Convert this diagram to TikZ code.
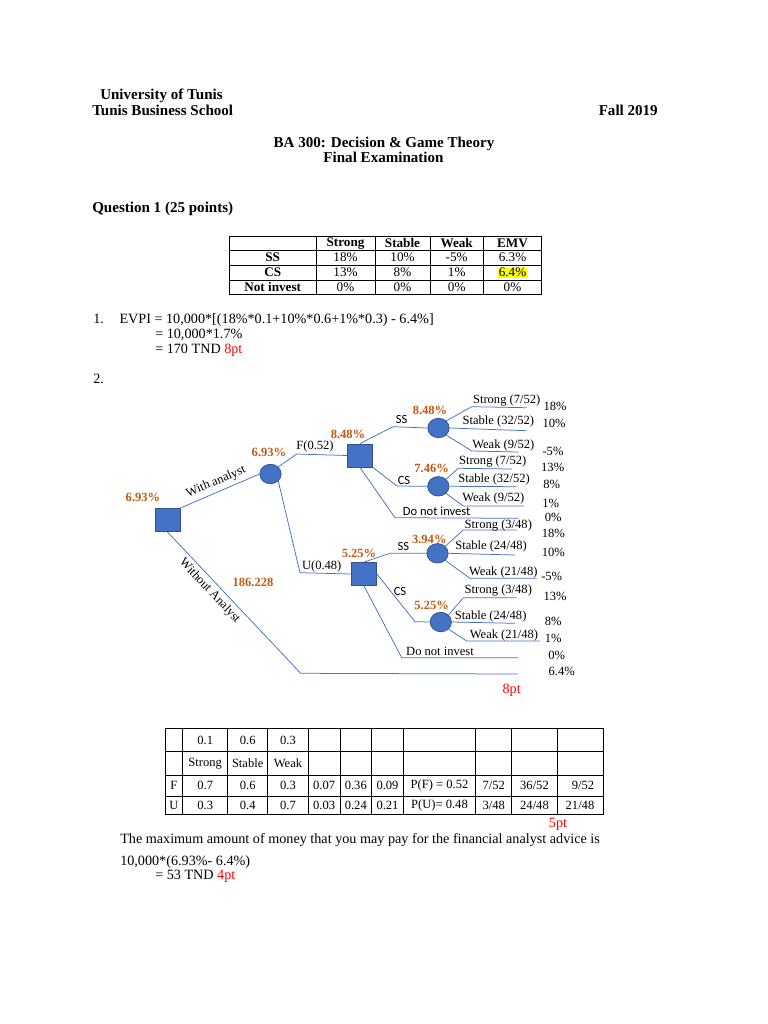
\documentclass[tikz,border=0pt]{standalone}
\usepackage{fontspec}
\setmainfont{Liberation Serif}
\newfontfamily\calib{Carlito}
\usetikzlibrary{shapes.geometric}
\definecolor{evorange}{HTML}{C55A11}
\definecolor{linblue}{HTML}{4472C4}
\definecolor{boxblue}{HTML}{4472C4}
\definecolor{boxedge}{HTML}{2F528F}
\definecolor{hiyellow}{HTML}{FFFF00}
\definecolor{redmark}{HTML}{FF0000}
\tikzset{
  big/.style={inner sep=0, anchor=base west, font=\fontsize{11.3}{13}\selectfont},
  bigb/.style={big, font=\fontsize{12}{14}\selectfont\bfseries},
  cell/.style={inner sep=0, font=\fontsize{10}{12}\selectfont},
  cellb/.style={cell, font=\fontsize{10.5}{12}\selectfont\bfseries},
  cellt/.style={cell, font=\fontsize{10.5}{12}\selectfont},
  grid/.style={draw=black, line width=0.6pt},
  branch/.style={draw=linblue, line width=0.6pt},
  dec/.style={rectangle, fill=boxblue, draw=boxedge, line width=0.6pt, minimum width=20pt, minimum height=18.5pt, inner sep=0},
  chance/.style={ellipse, fill=boxblue, draw=boxedge, line width=0.6pt, minimum width=17pt, minimum height=15.5pt, inner sep=0},
  val/.style={inner sep=0, text=evorange, font=\fontsize{10}{12}\selectfont\bfseries},
  lbl/.style={inner sep=0, font=\fontsize{10}{12}\selectfont},
  slbl/.style={inner sep=0, font=\calib\fontsize{10}{12}\selectfont},
  pay/.style={inner sep=0, font=\fontsize{10}{12}\selectfont},
  redtxt/.style={inner sep=0, text=redmark, font=\fontsize{11.3}{13}\selectfont}
}
\begin{document}
\begin{tikzpicture}[x=0.797pt, y=-0.797pt]
\useasboundingbox[fill=white] (0,0) rectangle (768,1024);

% ---------- header ----------
\node[bigb] (h1) at (100,99) {University of Tunis};
\node[bigb] (h2) at (92,115) {Tunis Business School};
\node[bigb, anchor=base east] (h3) at (658,115) {Fall 2019};
\node[bigb, anchor=base] (h4) at (384,147.3) {BA 300: Decision \& Game Theory};
\node[bigb, anchor=base] (h5) at (383.5,162.7) {Final Examination};
\node[bigb] (q1) at (92,212.7) {Question 1 (25 points)};

% ---------- first table ----------
\fill[hiyellow] (498.3,267.7) rectangle (526.7,278.3);
\draw[grid] (229.3,236.7) rectangle (541.7,294.3);
\foreach \x in {316,375,430,483.3} \draw[grid] (\x,236.7) -- (\x,294.3);
\foreach \y in {250,265,280} \draw[grid] (229.3,\y) -- (541.7,\y);
\node[cellb] (t01) at (345.5,243.3) {Strong};
\node[cellb] (t02) at (402.5,243.3) {Stable};
\node[cellb] (t03) at (456.7,243.3) {Weak};
\node[cellb] (t04) at (512.5,243.3) {EMV};
\node[cellb] (t10) at (272.7,257.5) {SS};
\node[cellt] (t11) at (345.5,257.5) {18\%};
\node[cellt] (t12) at (402.5,257.5) {10\%};
\node[cellt] (t13) at (456.7,257.5) {-5\%};
\node[cellt] (t14) at (512.5,257.5) {6.3\%};
\node[cellb] (t20) at (272.7,272.5) {CS};
\node[cellt] (t21) at (345.5,272.5) {13\%};
\node[cellt] (t22) at (402.5,272.5) {8\%};
\node[cellt] (t23) at (456.7,272.5) {1\%};
\node[cellt] (t24) at (512.5,272.5) {6.4\%};
\node[cellb] (t30) at (272.7,287.2) {Not invest};
\node[cellt] (t31) at (345.5,287.2) {0\%};
\node[cellt] (t32) at (402.5,287.2) {0\%};
\node[cellt] (t33) at (456.7,287.2) {0\%};
\node[cellt] (t34) at (512.5,287.2) {0\%};

% ---------- EVPI ----------
\node[big] (e0) at (93,323.3) {1.};
\node[big] (e1) at (119.3,323.3) {EVPI = 10,000*[(18\%*0.1+10\%*0.6+1\%*0.3) - 6.4\%]};
\node[big] (e2) at (155,338.3) {= 10,000*1.7\%};
\node[big] (e3) at (155,353.3) {= 170 TND \textcolor{redmark}{8pt}};
\node[big] (n2) at (93,383.3) {2.};

% ---------- decision tree nodes ----------
\node[dec] (root) at (167.5,520) {};
\node[chance] (A) at (270.5,474) {};
\node[dec] (F) at (360,455.5) {};
\node[dec] (U) at (364,574) {};
\node[chance] (S1) at (438.5,428) {};
\node[chance] (C1) at (438.3,486.3) {};
\node[chance] (S2) at (437.5,553.3) {};
\node[chance] (C2) at (440.8,622) {};

% free ends
\coordinate (eW) at (518,674);
\coordinate (eD1) at (518.3,518.3);
\coordinate (eD2) at (518.3,657.7);
\coordinate (eS1a) at (526.7,407.7);
\coordinate (eS1b) at (526.7,430.7);
\coordinate (eS1c) at (518.3,452);
\coordinate (eC1a) at (511.7,469);
\coordinate (eC1b) at (516.7,486.7);
\coordinate (eC1c) at (524,506);
\coordinate (eS2a) at (516.7,530);
\coordinate (eS2b) at (515,555);
\coordinate (eS2c) at (536.7,578.3);
\coordinate (eC2a) at (516.7,597.7);
\coordinate (eC2b) at (515,623.3);
\coordinate (eC2c) at (540,641);

% ---------- branches ----------
\draw[branch] (root.north east) -- node[lbl, sloped, above=3pt] (lwa) {With analyst} (A.west);
\draw[branch] (root.south) -- node[lbl, sloped, below=3pt, pos=0.37] (lwo) {Without Analyst} (300.7,673.3) -- (eW);
\draw[branch] (A.north east) -- (296.7,454) -- (F.west);
\draw[branch] (A.south east) -- (300,572.7) -- (U.west);
\draw[branch] (F.north) -- (393,426.7) -- (S1.west);
\draw[branch] (F.south east) -- (397,486) -- (C1.west);
\draw[branch] (F.south) -- (395,517.7) -- (eD1);
\draw[branch] (U.north) -- (390,553.3) -- (S2.west);
\draw[branch] (U.east) -- (415,621.7) -- (C2.west);
\draw[branch] (U.south) -- (401.7,657.7) -- (eD2);

\draw[branch] (S1.north east) -- (471.7,406.7) -- (eS1a);
\draw[branch] (S1.east) -- (eS1b);
\draw[branch] (S1.south east) -- (471.7,451) -- (eS1c);
\draw[branch] (C1.north east) -- (458.3,468.3) -- (eC1a);
\draw[branch] (C1.east) -- (eC1b);
\draw[branch] (C1.south east) -- (463.3,506) -- (eC1c);
\draw[branch] (S2.north east) -- (463.3,530) -- (eS2a);
\draw[branch] (S2.east) -- (eS2b);
\draw[branch] (S2.south east) -- (470,578.3) -- (eS2c);
\draw[branch] (C2.north east) -- (463.3,597.7) -- (eC2a);
\draw[branch] (C2.east) -- (eC2b);
\draw[branch] (C2.south east) -- (466.7,641) -- (eC2c);

% ---------- tree labels ----------
\node[val] (vroot) at (143,497.7) {6.93\%};
\node[val] (vA) at (269,452.7) {6.93\%};
\node[val] (vF) at (348,434) {8.48\%};
\node[val] (vU) at (359,553) {5.25\%};
\node[val] (vS1) at (430,410.7) {8.48\%};
\node[val] (vC1) at (431.7,468.3) {7.46\%};
\node[val] (vS2) at (429.3,539) {3.94\%};
\node[val] (vC2) at (431.7,605.7) {5.25\%};
\node[val] (v186) at (253,582.7) {186.228};

\node[lbl] (lF) at (315,446.7) {F(0.52)};
\node[lbl] (lU) at (321.7,566.7) {U(0.48)};
\node[slbl] (lSS1) at (401.7,419) {SS};
\node[slbl] (lCS1) at (404,480) {CS};
\node[slbl] (lD1) at (436.7,511.7) {Do not invest};
\node[slbl] (lSS2) at (403.3,546.7) {SS};
\node[slbl] (lCS2) at (400,591.7) {CS};
\node[lbl] (lD2) at (440,651) {Do not invest};

\node[lbl] (lS1a) at (506.7,400) {Strong (7/52)};
\node[lbl] (lS1b) at (498.3,421.7) {Stable (32/52)};
\node[lbl] (lS1c) at (503.3,445) {Weak (9/52)};
\node[lbl] (lC1a) at (492.7,461.7) {Strong (7/52)};
\node[lbl] (lC1b) at (494,479) {Stable (32/52)};
\node[lbl] (lC1c) at (493.3,498.3) {Weak (9/52)};
\node[lbl] (lS2a) at (498.3,525) {Strong (3/48)};
\node[lbl] (lS2b) at (491,546.7) {Stable (24/48)};
\node[lbl] (lS2c) at (503.3,572.3) {Weak (21/48)};
\node[lbl] (lC2a) at (498.3,590) {Strong (3/48)};
\node[lbl] (lC2b) at (490.7,616) {Stable (24/48)};
\node[lbl] (lC2c) at (504,635) {Weak (21/48)};

\node[pay] (p1) at (555,406.7) {18\%};
\node[pay] (p2) at (554,423.3) {10\%};
\node[pay] (p3) at (553,451.7) {-5\%};
\node[pay] (p4) at (552.7,467.3) {13\%};
\node[pay] (p5) at (551.7,484) {8\%};
\node[pay] (p6) at (550.7,503.3) {1\%};
\node[pay] (p7) at (553.3,517.3) {0\%};
\node[pay] (p8) at (553.3,533.3) {18\%};
\node[pay] (p9) at (553.3,552.3) {10\%};
\node[pay] (p10) at (551.7,576.7) {-5\%};
\node[pay] (p11) at (555,596.7) {13\%};
\node[pay] (p12) at (553.3,621) {8\%};
\node[pay] (p13) at (553.3,638.3) {1\%};
\node[pay] (p14) at (556.7,655.7) {0\%};
\node[pay] (p15) at (561.7,671) {6.4\%};
\node[redtxt] (r8) at (511.7,690.7) {8pt};

% ---------- second table ----------
\draw[grid] (165,728.3) rectangle (603.3,814.3);
\foreach \x in {182.7,227.7,267.7,308.3,340,371.7,403.3,475.7,511.7,557.3} \draw[grid] (\x,728.3) -- (\x,814.3);
\foreach \y in {751.7,775,796.7} \draw[grid] (165,\y) -- (603.3,\y);
\node[cell] (b11) at (205.2,740) {0.1};
\node[cell] (b12) at (247.7,740) {0.6};
\node[cell] (b13) at (288,740) {0.3};
\node[cell] (b21) at (205.2,763.3) {Strong};
\node[cell] (b22) at (247.7,763.3) {Stable};
\node[cell] (b23) at (288,763.3) {Weak};
\node[cell] (b30) at (173.8,785.8) {F};
\node[cell] (b31) at (205.2,785.8) {0.7};
\node[cell] (b32) at (247.7,785.8) {0.6};
\node[cell] (b33) at (288,785.8) {0.3};
\node[cell] (b34) at (324.2,785.8) {0.07};
\node[cell] (b35) at (355.8,785.8) {0.36};
\node[cell] (b36) at (387.5,785.8) {0.09};
\node[cell] (b37) at (439.5,785.8) {P(F) = 0.52};
\node[cell] (b38) at (493.7,785.8) {7/52};
\node[cell] (b39) at (534.5,785.8) {36/52};
\node[cell] (b3a) at (583,785.8) {9/52};
\node[cell] (b40) at (173.8,805.5) {U};
\node[cell] (b41) at (205.2,805.5) {0.3};
\node[cell] (b42) at (247.7,805.5) {0.4};
\node[cell] (b43) at (288,805.5) {0.7};
\node[cell] (b44) at (324.2,805.5) {0.03};
\node[cell] (b45) at (355.8,805.5) {0.24};
\node[cell] (b46) at (387.5,805.5) {0.21};
\node[cell] (b47) at (439.5,805.5) {P(U)= 0.48};
\node[cell] (b48) at (493.7,805.5) {3/48};
\node[cell] (b49) at (534.5,805.5) {24/48};
\node[cell] (b4a) at (580,805.5) {21/48};
\node[redtxt] (r5) at (558,824) {5pt};

% ---------- final text ----------
\node[big] (m1) at (120,843.3) {The maximum amount of money that you may pay for the financial analyst advice is};
\node[big] (m2) at (120,865) {10,000*(6.93\%- 6.4\%)};
\node[big] (m3) at (155,879) {= 53 TND \textcolor{redmark}{4pt}};
\end{tikzpicture}
\end{document}
